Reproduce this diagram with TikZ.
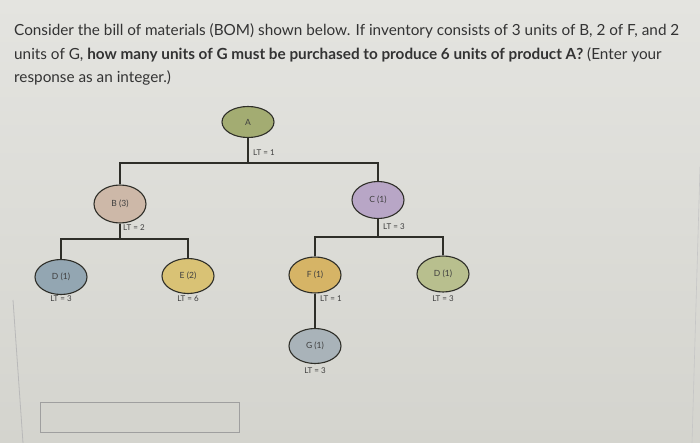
\documentclass[tikz,border=0pt]{standalone}
\usepackage{fontspec}
\setmainfont{Lato}
\usetikzlibrary{shapes.geometric}
\definecolor{bgtop}{HTML}{E4E4E0}
\definecolor{bgbot}{HTML}{D4D4CE}
\definecolor{txt}{HTML}{333333}
\definecolor{lbl}{HTML}{3F3F3F}
\definecolor{edge}{HTML}{2E2E28}
\definecolor{cA}{HTML}{A3AC72}
\definecolor{cB}{HTML}{CDB8A8}
\definecolor{cC}{HTML}{B8A6C6}
\definecolor{cD}{HTML}{93A6B2}
\definecolor{cE}{HTML}{D9C275}
\definecolor{cF}{HTML}{D6B466}
\definecolor{cD2}{HTML}{B8BF8E}
\definecolor{cG}{HTML}{A9B3B9}
\tikzset{
  part/.style={ellipse, draw=edge, line width=1.1pt, minimum width=52pt, minimum height=36pt, inner sep=0pt, font=\fontsize{8.5}{9}\selectfont, text=lbl},
  ltlabel/.style={font=\fontsize{8}{9}\selectfont, text=lbl, inner sep=0pt},
  link/.style={draw=edge, line width=1.6pt},
  question/.style={anchor=base west, inner sep=0pt, font=\fontsize{15.3}{18}\selectfont, text=txt}
}
\begin{document}
\begin{tikzpicture}[x=1pt,y=-1pt]
\useasboundingbox (0,0) rectangle (700,443);
\shade[top color=bgtop, bottom color=bgbot] (0,0) rectangle (700,443);
\draw[gray!55, line width=0.8pt] (13,300) -- (23,443);
\draw[gray!45, line width=0.6pt] (700,167) -- (692,443);

\node[question] (q1) at (14,36) {Consider the bill of materials (BOM) shown below. If inventory consists of 3 units of B, 2 of F, and 2};
\node[question] (q2) at (14,60) {units of G, \textbf{how many units of G must be purchased to produce 6 units of product A?} (Enter your};
\node[question] (q3) at (14,83) {response as an integer.)};

\node[part, fill=cA, minimum height=31pt] (A) at (248,122) {A};
\node[part, fill=cB, minimum height=38pt] (B) at (120,204) {B (3)};
\node[part, fill=cC, minimum height=37pt] (C) at (378,200) {C (1)};
\node[part, fill=cD, minimum height=35pt] (D1) at (61,277) {D (1)};
\node[part, fill=cE, minimum height=35pt] (E) at (188,276) {E (2)};
\node[part, fill=cF, minimum height=36pt] (F) at (315,275) {F (1)};
\node[part, fill=cD2, minimum height=36pt] (D2) at (443,274) {D (1)};
\node[part, fill=cG, minimum height=35pt] (G) at (315,346) {G (1)};

\coordinate (jA) at (248,163);
\coordinate (jB) at (120,239);
\coordinate (jC) at (378,237);

\draw[link] (A.south) -- (jA);
\draw[link] (B.north) |- (jA) -| (C.north);
\draw[link] (B.south) -- (jB);
\draw[link] (D1.north) |- (jB) -| (E.north);
\draw[link] (C.south) -- (jC);
\draw[link] (F.north) |- (jC) -| (D2.north);
\draw[link] (F.south) -- (G.north);

\node[ltlabel, anchor=west] (lA) at (253,153) {LT = 1};
\node[ltlabel, anchor=west] (lB) at (123,228) {LT = 2};
\node[ltlabel, anchor=west] (lC) at (383,227) {LT = 3};
\node[ltlabel] (lD1) at (61,299) {LT = 3};
\node[ltlabel] (lE) at (188,299) {LT = 6};
\node[ltlabel, anchor=west] (lF) at (320,299) {LT = 1};
\node[ltlabel] (lD2) at (443,299) {LT = 3};
\node[ltlabel] (lG) at (315,371) {LT = 3};

\node[draw=gray!75, fill=bgbot, line width=0.8pt, minimum width=199pt, minimum height=30pt, inner sep=0pt, anchor=north west] (ans) at (40,402) {};
\end{tikzpicture}
\end{document}
